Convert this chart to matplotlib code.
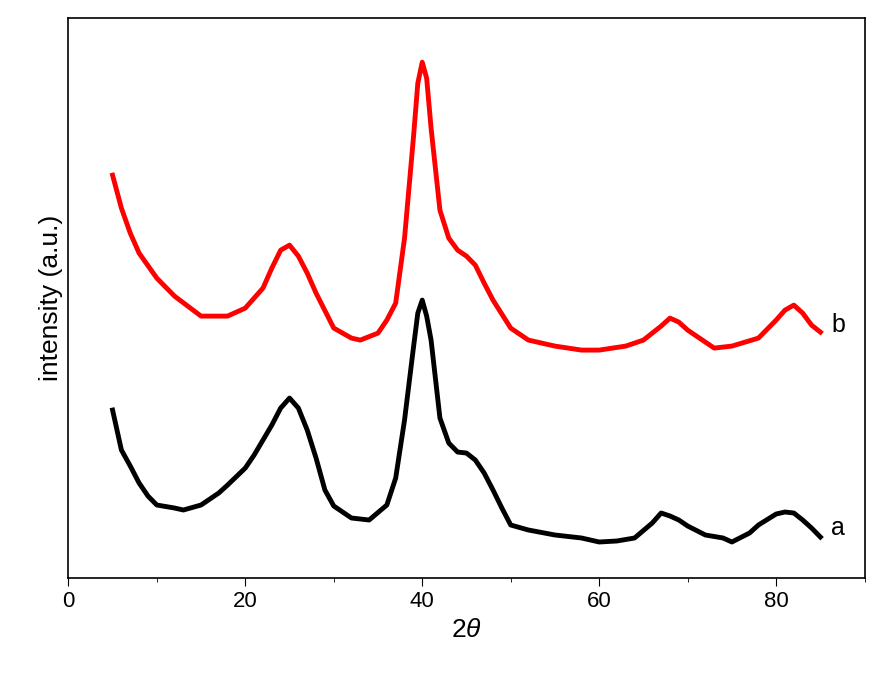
import matplotlib
matplotlib.use("Agg")
import matplotlib.pyplot as plt
plt.rcParams['font.family'] = ['Liberation Sans', 'DejaVu Sans']
plt.rcParams['mathtext.fontset'] = 'custom'
plt.rcParams['mathtext.it'] = 'Liberation Sans:italic'

xb = [5, 6, 7, 8, 10, 12, 15, 18, 20, 22, 23, 24, 25, 26, 27, 28, 30, 32, 33, 35, 36, 37, 38, 39, 39.5, 40, 40.5, 41, 42, 43, 44, 45, 46, 47, 48, 50, 52, 55, 58, 60, 63, 65, 67, 68, 69, 70, 72, 73, 75, 78, 80, 81, 82, 83, 84, 85]
yb = [403, 370, 345, 325, 300, 282, 262, 262, 270, 290, 310, 328, 333, 322, 305, 285, 250, 240, 238, 245, 258, 275, 340, 440, 495, 516, 500, 450, 368, 340, 328, 322, 313, 295, 278, 250, 238, 232, 228, 228, 232, 238, 252, 260, 256, 248, 236, 230, 232, 240, 258, 268, 273, 265, 253, 246]

xa = [5, 6, 7, 8, 9, 10, 12, 13, 15, 17, 18, 20, 21, 22, 23, 24, 25, 26, 27, 28, 29, 30, 32, 34, 36, 37, 38, 39, 39.5, 40, 40.5, 41, 42, 43, 44, 45, 46, 47, 48, 49, 50, 52, 55, 58, 60, 62, 64, 66, 67, 68, 69, 70, 72, 74, 75, 77, 78, 80, 81, 82, 83, 84, 85]
ya = [168, 128, 112, 95, 82, 73, 70, 68, 73, 85, 93, 110, 123, 138, 153, 170, 180, 170, 148, 120, 88, 72, 60, 58, 73, 100, 158, 230, 265, 278, 262, 238, 160, 135, 126, 125, 118, 105, 88, 70, 53, 48, 43, 40, 36, 37, 40, 55, 65, 62, 58, 52, 43, 40, 36, 45, 53, 64, 66, 65, 58, 50, 41]

fig = plt.figure(figsize=(8.76, 6.76), dpi=100)
ax = fig.add_axes([0.078, 0.145, 0.909, 0.828])
ax.plot(xb, yb, color="#ff0000", lw=3.5)
ax.plot(xa, ya, color="black", lw=3.5)
ax.text(86.2, 253, "b", fontsize=18, va="center")
ax.text(86.2, 50, "a", fontsize=18, va="center")
ax.set_xlim(0, 90)
ax.set_ylim(0, 560)
ax.set_yticks([])
ax.set_xticks([0, 20, 40, 60, 80])
ax.set_xticks([10, 30, 50, 70, 90], minor=True)
ax.tick_params(axis="x", labelsize=16, direction="out", length=6)
ax.tick_params(axis="x", which="minor", length=3)
ax.set_xlabel(r"2$\theta$", fontsize=19)
ax.set_ylabel("intensity (a.u.)", fontsize=19)
for s in ax.spines.values():
    s.set_linewidth(1.2)
fig.savefig("out.png", dpi=100)
